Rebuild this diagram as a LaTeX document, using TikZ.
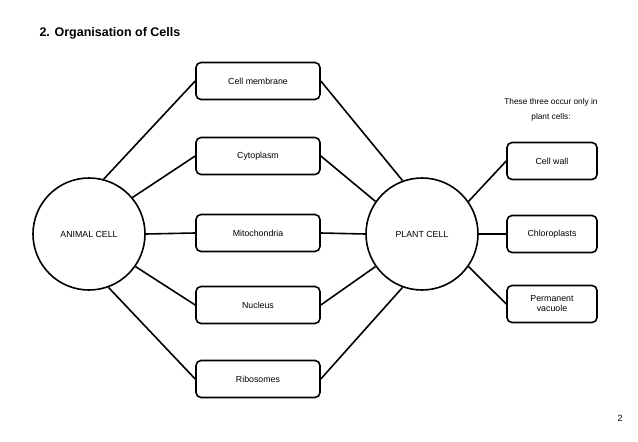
\documentclass[tikz,border=0pt]{standalone}
\usepackage{fontspec}
\setmainfont{Liberation Sans}
\begin{document}
\begin{tikzpicture}[x=1pt,y=-1pt,
  box/.style={draw,line width=1.6pt,rounded corners=5pt,minimum width=124pt,minimum height=37pt,font=\fontsize{8.8}{10}\selectfont,align=center},
  rbox/.style={box,minimum width=90pt},
  cell/.style={draw,line width=1.6pt,circle,minimum size=112pt,font=\fontsize{8.8}{10}\selectfont},
  ln/.style={line width=1.6pt}]
\useasboundingbox (0,0) rectangle (638,442);
\node[anchor=west,font=\bfseries\fontsize{12.5}{14}\selectfont] (t) at (36,33) {2. Organisation of Cells};
\node[cell] (a) at (89,234) {ANIMAL CELL};
\node[cell] (p) at (422,234) {PLANT CELL};
\node[box] (b1) at (258,81) {Cell membrane};
\node[box] (b2) at (258,156) {Cytoplasm};
\node[box] (b3) at (258,233) {Mitochondria};
\node[box] (b4) at (258,305) {Nucleus};
\node[box] (b5) at (258,379) {Ribosomes};
\node[rbox] (r1) at (552,161) {Cell wall};
\node[rbox] (r2) at (552,234) {Chloroplasts};
\node[rbox] (r3) at (552,304) {Permanent\\vacuole};
\node[font=\fontsize{8.3}{10}\selectfont,align=center] (n) at (551,110) {These three occur only in\\[5pt]plant cells:};
\node[font=\fontsize{9}{10}\selectfont] (pg) at (620,418) {2};
\draw[ln] (a.75) -- (b1.west);
\draw[ln] (a.40) -- (b2.west);
\draw[ln] (a.east) -- (b3.west);
\draw[ln] (a.-35) -- (b4.west);
\draw[ln] (a.-70) -- (b5.west);
\draw[ln] (p.110) -- (b1.east);
\draw[ln] (p.145) -- (b2.east);
\draw[ln] (p.west) -- (b3.east);
\draw[ln] (p.-145) -- (b4.east);
\draw[ln] (p.-110) -- (b5.east);
\draw[ln] (p.35) -- (r1.west);
\draw[ln] (p.east) -- (r2.west);
\draw[ln] (p.-35) -- (r3.west);
\end{tikzpicture}
\end{document}
